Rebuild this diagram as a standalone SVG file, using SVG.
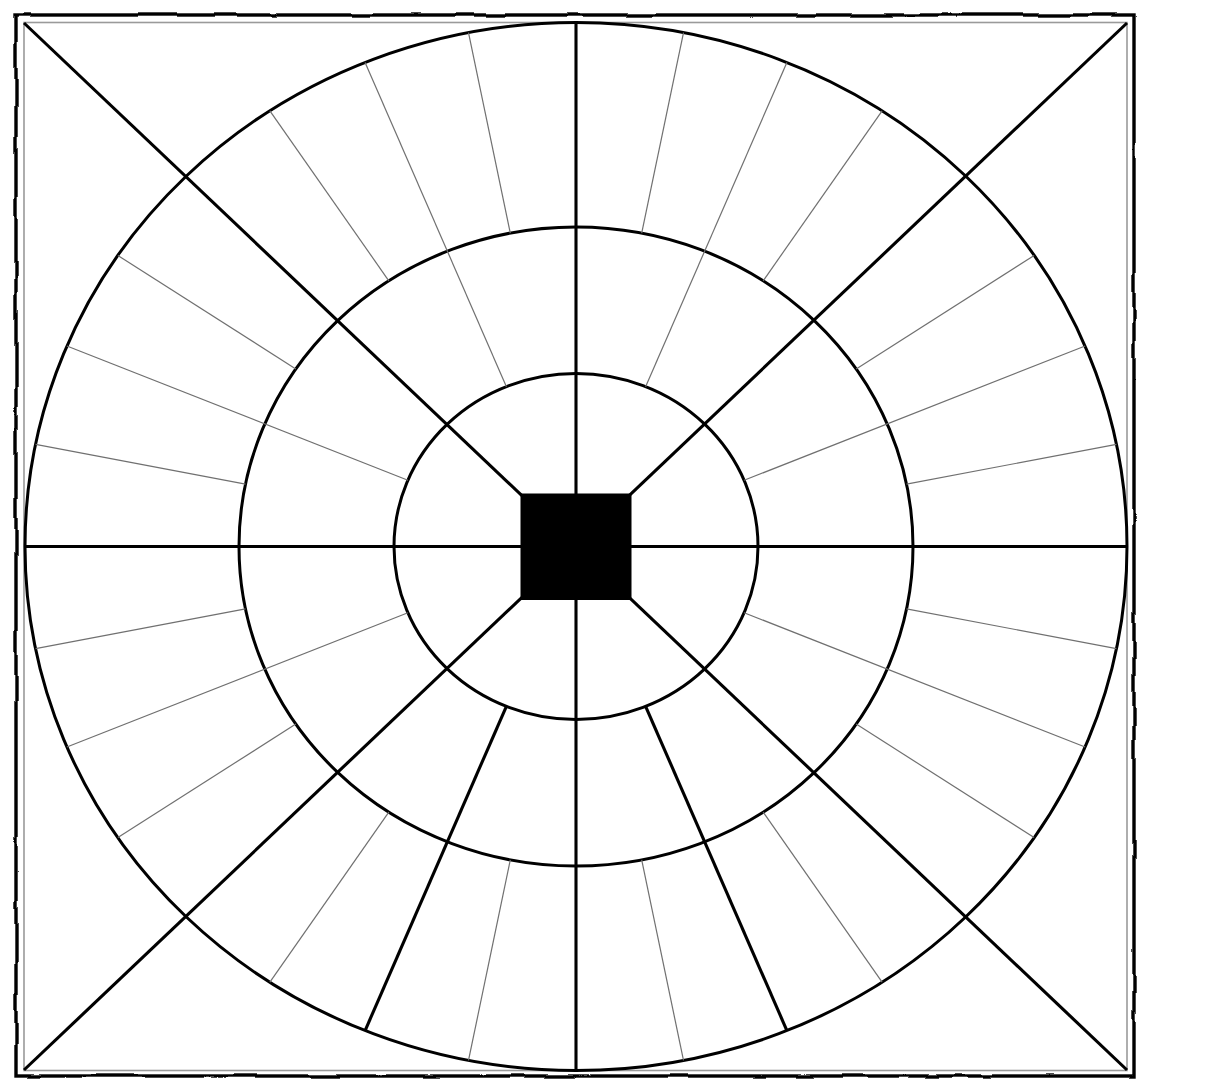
<svg xmlns="http://www.w3.org/2000/svg" width="1227" height="1086" viewBox="0 0 1227 1086">
  <style>
    .ring{fill:none;stroke:#000;stroke-width:3}
    .thick{stroke:#000;stroke-width:3.1;stroke-linecap:butt}
    .thin{stroke:#707070;stroke-width:1.2}
  </style>
  <defs>
    <filter id="wobble" x="-3%" y="-3%" width="106%" height="106%">
      <feTurbulence type="fractalNoise" baseFrequency="0.03" numOctaves="1" seed="11"/>
      <feDisplacementMap in="SourceGraphic" scale="4" xChannelSelector="R" yChannelSelector="G"/>
    </filter>
  </defs>
  <rect width="1227" height="1086" fill="#fff"/>
  <g id="frame">
    <rect x="16" y="15" width="1118" height="1061" fill="none" stroke="#000" stroke-width="3.4" filter="url(#wobble)"/>
    <rect x="24" y="22.5" width="1103" height="1048" fill="none" stroke="#9a9a9a" stroke-width="1.6"/>
  </g>
  <g id="rings">
    <ellipse class="ring" cx="576" cy="546.5" rx="551" ry="524"/>
    <ellipse class="ring" cx="576" cy="546.5" rx="337" ry="319.5"/>
    <ellipse class="ring" cx="576" cy="546.5" rx="182" ry="173"/>
  </g>
  <g id="connectors">
    <g id="thin-spokes" class="thin">
      <line x1="683.5" y1="32.6" x2="641.7" y2="233.1"/>
      <line x1="468.5" y1="32.6" x2="510.3" y2="233.1"/>
      <line x1="468.5" y1="1060.4" x2="510.3" y2="859.9"/>
      <line x1="683.5" y1="1060.4" x2="641.7" y2="859.9"/>
      <line x1="882.1" y1="110.8" x2="763.2" y2="280.8"/>
      <line x1="269.9" y1="110.8" x2="388.8" y2="280.8"/>
      <line x1="269.9" y1="982.2" x2="388.8" y2="812.2"/>
      <line x1="882.1" y1="982.2" x2="763.2" y2="812.2"/>
      <line x1="1034.1" y1="255.4" x2="856.2" y2="369"/>
      <line x1="117.9" y1="255.4" x2="295.8" y2="369"/>
      <line x1="117.9" y1="837.6" x2="295.8" y2="724"/>
      <line x1="1034.1" y1="837.6" x2="856.2" y2="724"/>
      <line x1="1116.4" y1="444.3" x2="906.5" y2="484.2"/>
      <line x1="35.6" y1="444.3" x2="245.5" y2="484.2"/>
      <line x1="35.6" y1="648.7" x2="245.5" y2="608.8"/>
      <line x1="1116.4" y1="648.7" x2="906.5" y2="608.8"/>
      <line x1="1085.1" y1="346" x2="744.1" y2="480.3"/>
      <line x1="66.9" y1="346" x2="407.9" y2="480.3"/>
      <line x1="66.9" y1="747" x2="407.9" y2="612.7"/>
      <line x1="1085.1" y1="747" x2="744.1" y2="612.7"/>
      <line x1="786.9" y1="62.4" x2="645.6" y2="386.7"/>
      <line x1="365.1" y1="62.4" x2="506.4" y2="386.7"/>
    </g>
    <g id="thick-spokes" class="thick">
      <line x1="576" y1="22.5" x2="576" y2="1070"/>
      <line x1="25" y1="546.5" x2="1126" y2="546.5"/>
      <line x1="24" y1="23" x2="1127" y2="1070"/>
      <line x1="1127" y1="23" x2="24" y2="1070"/>
      <line x1="365.1" y1="1030.6" x2="506.4" y2="706.3"/>
      <line x1="786.9" y1="1030.6" x2="645.6" y2="706.3"/>
    </g>
  </g>
  <g id="center">
    <rect x="520.5" y="493.5" width="111" height="106.5" fill="#000"/>
  </g>
</svg>
